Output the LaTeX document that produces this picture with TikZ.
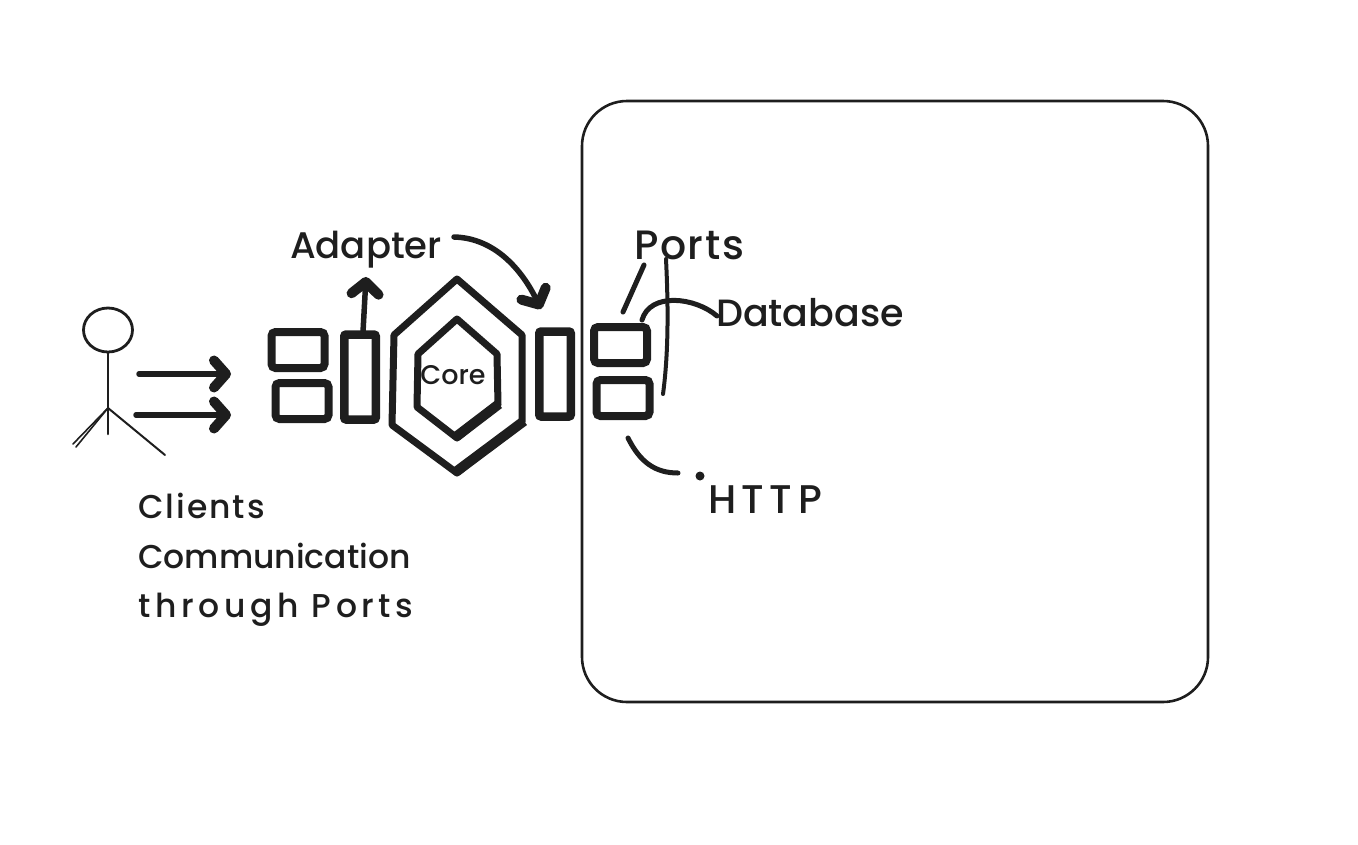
\documentclass[tikz,border=0pt]{standalone}
\usepackage{fontspec}
\setmainfont{Poppins}[UprightFont={* Medium}]
\usetikzlibrary{arrows.meta, shapes.geometric}
\definecolor{ink}{HTML}{1E1E1E}
\tikzstyle{label}    = [text=ink, inner sep=0pt, font=\fontsize{37}{43}\selectfont]
\tikzstyle{slot}     = [rectangle, rounded corners=4pt, line width=8pt, draw=ink, minimum width=53pt, minimum height=36pt]
\tikzstyle{adapter}  = [rectangle, rounded corners=2pt, line width=8.5pt, draw=ink, minimum width=31.5pt, minimum height=85pt]
\tikzstyle{hexline}  = [line width=7pt, draw=ink, line join=round]
\tikzstyle{stick}    = [line width=2.6pt, draw=ink, line cap=round]
\tikzstyle{pointer}  = [line width=5pt, draw=ink, line cap=round]
\tikzstyle{arrow}    = [line width=5.5pt, draw=ink, line cap=round, ->, >={Straight Barb[round, length=12pt, width=27pt, line width=10pt]}]

\begin{document}
\begin{tikzpicture}[x=1pt, y=-1pt]
    \useasboundingbox (0,0) rectangle (1358,844);

    % frame
    \node (frame) [rectangle, rounded corners=45pt, line width=2.6pt, draw=ink, minimum width=626pt, minimum height=601pt] at (895,401.5) {};

    % client
    \node (head) [ellipse, line width=2.8pt, draw=ink, minimum width=49pt, minimum height=44pt, inner sep=0pt] at (108,330) {};
    \coordinate (hip)    at (108,408);
    \coordinate (foota)  at (73,444);
    \coordinate (footb)  at (76,447);
    \coordinate (footc)  at (108,434);
    \coordinate (footd)  at (165,455);
    \draw [stick] (head.south) -- (hip);
    \draw [stick, line width=1.6pt] (hip) -- (foota);
    \draw [stick, line width=1.6pt] (hip) -- (footb);
    \draw [stick] (hip) -- (footc);
    \draw [stick, line width=2pt] (hip) -- (footd);

    \coordinate (senda) at (139,374);
    \coordinate (sendb) at (136,415);
    \coordinate (recva) at (231,374);
    \coordinate (recvb) at (231,415);
    \draw [arrow] (senda) -- (recva);
    \draw [arrow] (sendb) -- (recvb);

    % left side
    \node (clienta)  [slot] at (298,350) {};
    \node (clientb)  [slot] at (302,401) {};
    \node (adapterl) [adapter] at (360,377) {};

    % core
    \draw [hexline] (457,279) -- (522,335) -- (522,422) -- (457,473) -- (392,425) -- (394,335) -- cycle;
    \draw [hexline] (457,319) -- (497,354) -- (498,405) -- (457,438) -- (417,407) -- (418,354) -- cycle;
    \draw [hexline, line width=10pt] (457,471) -- (524,421);
    \draw [hexline, line width=10pt] (457,436) -- (499,404);
    \node (core) [label, font=\fontsize{27}{32}\selectfont] at (453,375) {Core};

    % right side
    \node (adapterr) [adapter] at (555,374) {};
    \node (porta)    [slot] at (620.5,345) {};
    \node (portb)    [slot] at (623,398) {};

    % labels
    \node (adapterlabel)  [label] at (366,250) {Adapter};
    \node (portslabel)    [label, font=\fontsize{41}{47}\selectfont\addfontfeature{LetterSpace=4}] at (689,245) {Ports};
    \node (databaselabel) [label, font=\fontsize{38}{44}\selectfont] at (810,313) {Database};
    \node (httplabel)     [label, font=\fontsize{40}{46}\selectfont\addfontfeature{LetterSpace=14}] at (765,500) {HTTP};
    \node (notelabel)     [label, anchor=north west, align=left, font=\fontsize{33}{49.5}\selectfont] at (138,493) {{\addfontfeature{LetterSpace=6}Clients}\\Communication\\{\addfontfeature{LetterSpace=14}through Ports}};

    % pointers
    \coordinate (adapterstem) at (363,332);
    \coordinate (adaptertip) at (366,277);
    \coordinate (swoopend)   at (541,309);
    \coordinate (swoopstart) at (454,237);
    \coordinate (portsa)     at (644,265);
    \coordinate (portsb)     at (623,312);
    \coordinate (portsc)     at (666,259);
    \coordinate (portsd)     at (663,394);
    \coordinate (dba)        at (717,316);
    \coordinate (dbb)        at (642,320);
    \coordinate (httpa)      at (628,438);
    \coordinate (httpb)      at (678,473);
    \draw [arrow] (adapterstem) -- (adaptertip);
    \draw [arrow] (swoopstart) .. controls (495,238) and (522,270) .. (swoopend);
    \draw [pointer] (portsa) -- (portsb);
    \draw [pointer, line width=4pt] (portsc) .. controls (668,300) and (669,350) .. (portsd);
    \draw [pointer] (dba) .. controls (695,297) and (650,292) .. (dbb);
    \draw [pointer] (httpa) .. controls (640,462) and (655,473) .. (httpb);
    \node (httpdot) [circle, fill=ink, minimum size=9pt, inner sep=0pt] at (700,476) {};
\end{tikzpicture}
\end{document}
